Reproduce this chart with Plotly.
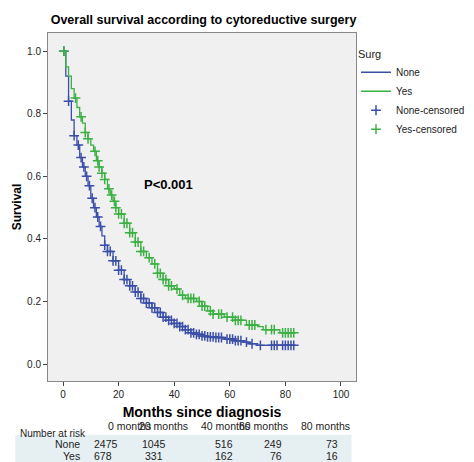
import bisect

import plotly.graph_objects as go

# Kaplan-Meier step estimates
none_t = [0, 1, 2, 3, 4, 5, 6, 7, 8, 9, 10, 11, 12, 13, 14, 15, 16, 18, 20, 22, 24, 26, 28, 30,
          32, 34, 36, 38, 40, 42, 44, 46, 48, 50, 52, 55, 58, 62, 65, 67, 70, 83]
none_s = [1.0, 0.92, 0.84, 0.78, 0.73, 0.70, 0.66, 0.63, 0.60, 0.57, 0.53, 0.50, 0.47, 0.44, 0.41,
          0.38, 0.36, 0.33, 0.30, 0.27, 0.25, 0.23, 0.21, 0.195, 0.18, 0.165, 0.15, 0.14, 0.13,
          0.12, 0.11, 0.10, 0.095, 0.09, 0.087, 0.085, 0.08, 0.075, 0.07, 0.065, 0.06, 0.06]
yes_t = [0, 1, 2, 3, 4, 5, 6, 7, 8, 9, 10, 11, 12, 13, 14, 15, 16, 17, 18, 19, 20, 22, 24, 26, 28,
         30, 32, 34, 36, 38, 40, 42, 44, 48, 50, 52, 54, 58, 62, 66, 70, 72, 78, 83]
yes_s = [1.0, 0.95, 0.92, 0.88, 0.85, 0.82, 0.79, 0.77, 0.74, 0.72, 0.70, 0.68, 0.65, 0.63, 0.61,
         0.59, 0.56, 0.54, 0.52, 0.50, 0.48, 0.45, 0.42, 0.39, 0.36, 0.34, 0.32, 0.29, 0.27, 0.25,
         0.24, 0.22, 0.21, 0.20, 0.185, 0.17, 0.16, 0.15, 0.14, 0.125, 0.12, 0.11, 0.10, 0.10]

none_cens = [0.3, 2, 4, 5.5, 6.5, 7.5, 8.5, 9.5, 10.5, 11.5, 12.5, 13.5, 15, 16, 17, 18, 19, 20,
             21, 22, 23, 24, 25, 26, 27, 28, 29, 30, 31, 32, 33, 34, 35, 36, 37, 38, 39, 40, 41,
             42, 43, 44, 45, 46, 47, 48, 49, 50, 51, 52, 53, 54, 55, 56, 57, 59, 60, 61, 62, 63,
             64, 66, 68, 71, 75, 76, 77, 79, 80, 81, 82, 83]
yes_cens = [0.3, 4.5, 6.5, 8, 9, 11.5, 12.5, 13, 14, 15, 16.5, 17.5, 18.5, 19, 20, 21, 22, 23, 24,
            25, 26, 27, 28, 29, 31, 33, 34, 35, 36, 37, 38, 39, 41, 43, 45, 46, 47, 49, 50, 51,
            53, 54, 56, 57, 59, 61, 62, 63, 64, 67, 68, 69, 73, 75, 76, 79, 80, 81, 82, 83]

risk_groups = ["None", "Yes"]
risk_cols = ["0 months", "20 months", "40 months", "60 months", "80 months"]
risk_none = [2475, 1045, 516, 249, 73]
risk_yes = [678, 331, 162, 76, 16]

BLUE = "#3b4fa8"
GREEN = "#3cb043"

L, R, T, B = 40, 86, 25, 89
PW, PH = 474 - L - R, 462 - T - B


def at(ts, ss, t):
    return ss[bisect.bisect_right(ts, t) - 1]


def px(x):
    return (x - L) / PW


def py(y):
    return (462 - B - y) / PH


fig = go.Figure()
for name, ts, ss, col in [("None", none_t, none_s, BLUE), ("Yes", yes_t, yes_s, GREEN)]:
    fig.add_trace(go.Scatter(x=ts, y=ss, mode="lines", line=dict(color=col, width=1.3, shape="hv"),
                             name=name))
for name, ts, ss, cens, col in [("None-censored", none_t, none_s, none_cens, BLUE),
                                ("Yes-censored", yes_t, yes_s, yes_cens, GREEN)]:
    fig.add_trace(go.Scatter(x=cens, y=[at(ts, ss, c) for c in cens], mode="markers",
                             marker=dict(symbol="cross-thin", size=7, line=dict(color=col, width=1.5)),
                             name=name))

fig.add_annotation(x=38, y=0.575, text="<b>P<0.001</b>", showarrow=False,
                   font=dict(size=13, color="black"))

# number-at-risk table
fig.add_shape(type="rect", xref="paper", yref="paper", x0=px(3), x1=px(383), y0=py(462), y1=py(427),
              fillcolor="#e6f0f2", line_width=0, layer="below")
fig.add_annotation(xref="paper", yref="paper", x=px(6), y=py(433), text="Number at risk",
                   xanchor="left", showarrow=False, font=dict(size=10))
head_x = [105, 171, 240, 313, 383]
num_x = [90, 160, 239, 307, 370]
for i, c in enumerate(risk_cols):
    fig.add_annotation(xref="paper", yref="paper", x=px(head_x[i]), y=py(426), text=c,
                       showarrow=False, font=dict(size=10.5))
    for row, vals in [(0, risk_none), (1, risk_yes)]:
        fig.add_annotation(xref="paper", yref="paper", x=px(num_x[i]), y=py(444 + row * 12),
                           text=str(vals[i]), showarrow=False, font=dict(size=10.5))
for row, g in enumerate(risk_groups):
    fig.add_annotation(xref="paper", yref="paper", x=px(78), y=py(444 + row * 12), text=g,
                       xanchor="right", showarrow=False, font=dict(size=10.5))

fig.update_layout(
    width=474, height=462,
    margin=dict(l=L, r=R, t=T, b=B),
    title=dict(text="<b>Overall survival according to cytoreductive surgery</b>", x=0.09, xanchor="left",
               y=0.985, font=dict(size=12.5, color="black")),
    plot_bgcolor="#f0f0f0", paper_bgcolor="white",
    font=dict(family="Liberation Sans, Arial", color="#222"),
    legend=dict(title=dict(text="Surg", font=dict(size=11)), x=1.0, y=0.97, xanchor="left",
                font=dict(size=10), bgcolor="rgba(0,0,0,0)", tracegroupgap=0, itemwidth=30),
    xaxis=dict(range=[-5.4, 105.4], tickvals=[0, 20, 40, 60, 80, 100], showgrid=False, zeroline=False,
               showline=True, mirror=True, linecolor="#888", ticks="outside", ticklen=4,
               tickfont=dict(size=10), automargin=False,
               title=dict(text="<b>Months since diagnosis</b>", font=dict(size=14, color="black"),
                          standoff=8)),
    yaxis=dict(range=[-0.054, 1.058], tickvals=[0, 0.2, 0.4, 0.6, 0.8, 1.0], tickformat=".1f",
               showgrid=False, zeroline=False, showline=True, mirror=True, linecolor="#888",
               ticks="outside", ticklen=4, tickfont=dict(size=10), automargin=False,
               title=dict(text="<b>Survival</b>", font=dict(size=12, color="black"), standoff=2)),
)

fig.write_html("out.html")
